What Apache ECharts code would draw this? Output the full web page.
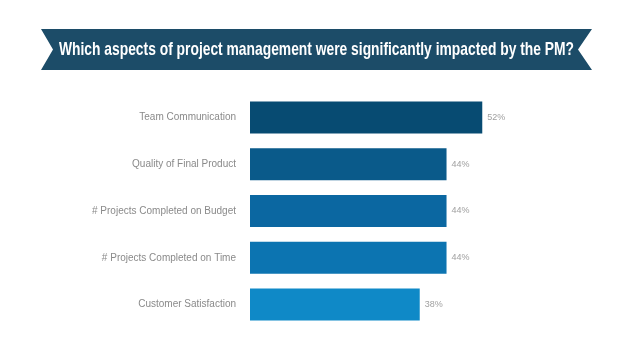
<!DOCTYPE html>
<html><head><meta charset="utf-8">
<script src="https://cdn.jsdelivr.net/npm/echarts@6/dist/echarts.min.js"></script>
<style>html,body{margin:0;padding:0;background:#fff}#c{width:638px;height:359px}</style>
</head><body><div id="c"></div>
<script>
const titleText = 'Which aspects of project management were significantly impacted by the PM?';
const categories = ['Team Communication','Quality of Final Product','# Projects Completed on Budget','# Projects Completed on Time','Customer Satisfaction'];
const values = [52, 44, 44, 44, 38];
const barColors = ['#074b72','#0a5a8a','#0b67a1','#0c74b1','#0f89c7'];

const titleFont = 'bold 19px "Liberation Sans", Arial, sans-serif';
const cv = document.createElement('canvas').getContext('2d');
cv.font = titleFont;
const tw = cv.measureText(titleText).width;
const sx = 515 / tw;

const chart = echarts.init(document.getElementById('c'));
chart.setOption({
  backgroundColor: '#ffffff',
  animation: false,
  graphic: [
    { type: 'polygon', shape: { points: [[41,29],[592,29],[578,49.5],[592,70],[41,70],[53,49.5]] },
      style: { fill: '#1c4c68' } },
    { type: 'text', x: 316.5, y: 49.5, scaleX: sx, originX: 0, originY: 0,
      style: { text: titleText, fill: '#ffffff', font: titleFont, align: 'center', verticalAlign: 'middle' } }
  ],
  grid: { left: 250, top: 94, width: 268, height: 234, containLabel: false },
  xAxis: { type: 'value', min: 0, max: 60, show: false },
  yAxis: { type: 'category', data: categories, inverse: true,
    axisLine: { show: false }, axisTick: { show: false }, splitLine: { show: false },
    axisLabel: { margin: 14, color: '#8a8a8a', fontSize: 10, fontFamily: '"Liberation Sans", sans-serif' } },
  series: [{
    type: 'bar', barWidth: 32,
    data: values.map((v, i) => ({ value: v, itemStyle: { color: barColors[i] } })),
    label: { show: true, position: 'right', distance: 5, formatter: '{c}%', color: '#a0a0a0', fontSize: 9,
      fontFamily: '"Liberation Sans", sans-serif' }
  }]
});
</script></body></html>
